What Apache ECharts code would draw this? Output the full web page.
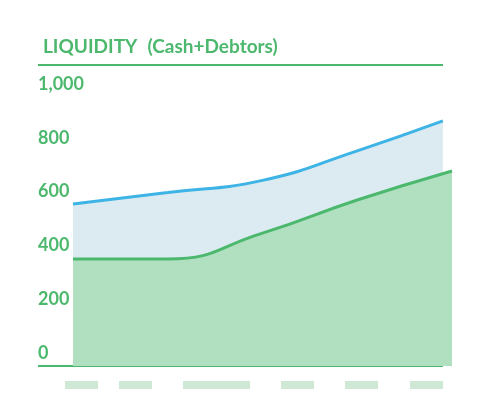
<!DOCTYPE html><html><head><meta charset="utf-8"><script src="https://cdn.jsdelivr.net/npm/echarts@6/dist/echarts.min.js"></script>
<style>html,body{margin:0;padding:0;background:#fff}#c{width:479px;height:413px}</style></head><body><div id="c"></div><script>
const yTicks=[0,200,400,600,800,1000];
const xPos=[0,2.5,5,7.5,9.76];
const xPosG=[0,2.5,5,7.5,10];
const totalValues=[602,645,690,800,911];
const cashValues=[398,398,494,617,725];
const G='#4cb86d';
const chart=echarts.init(document.getElementById('c'));
chart.setOption({
animation:false,
title:{text:'{b|LIQUIDITY}  {n|(Cash+Debtors)}',left:38,top:32,textStyle:{rich:{b:{fontFamily:'Lato',fontWeight:'bold',fontSize:19,color:G},n:{fontFamily:'Lato',fontWeight:'bold',fontSize:19,color:G}}}},
grid:{left:73,right:27,top:97,bottom:47},
xAxis:{type:'value',min:0,max:10,show:false},
yAxis:{type:'value',min:0,max:1000,interval:200,splitLine:{show:false},axisLine:{show:false},axisTick:{show:false},
 axisLabel:{align:'left',margin:35,verticalAlign:'bottom',padding:[0,0,4,0],fontFamily:'Lato',fontWeight:'bold',fontSize:18,color:G,formatter:v=>v.toLocaleString('en-US')}},
series:[
{type:'line',smooth:0.5,symbol:'none',data:xPos.map((x,i)=>[x,totalValues[i]]),lineStyle:{color:'#3db4e5',width:3},areaStyle:{color:'#dcebf2',opacity:1}},
{type:'line',smooth:0.5,symbol:'none',data:xPosG.map((x,i)=>[x,cashValues[i]]),lineStyle:{color:G,width:3},areaStyle:{color:'#b1e0c1',opacity:1}}
],
graphic:[
{type:'line',shape:{x1:38,y1:65,x2:443,y2:65},style:{stroke:G,lineWidth:2}},
{type:'line',shape:{x1:38,y1:366,x2:443,y2:366},style:{stroke:G,lineWidth:2}},
...[[65,98],[119,152],[183,250],[281,314],[345,378],[410,443]].map(([a,b])=>({type:'rect',shape:{x:a,y:381,width:b-a,height:8},style:{fill:'#cfe8d6'}}))
]});
</script></body></html>
